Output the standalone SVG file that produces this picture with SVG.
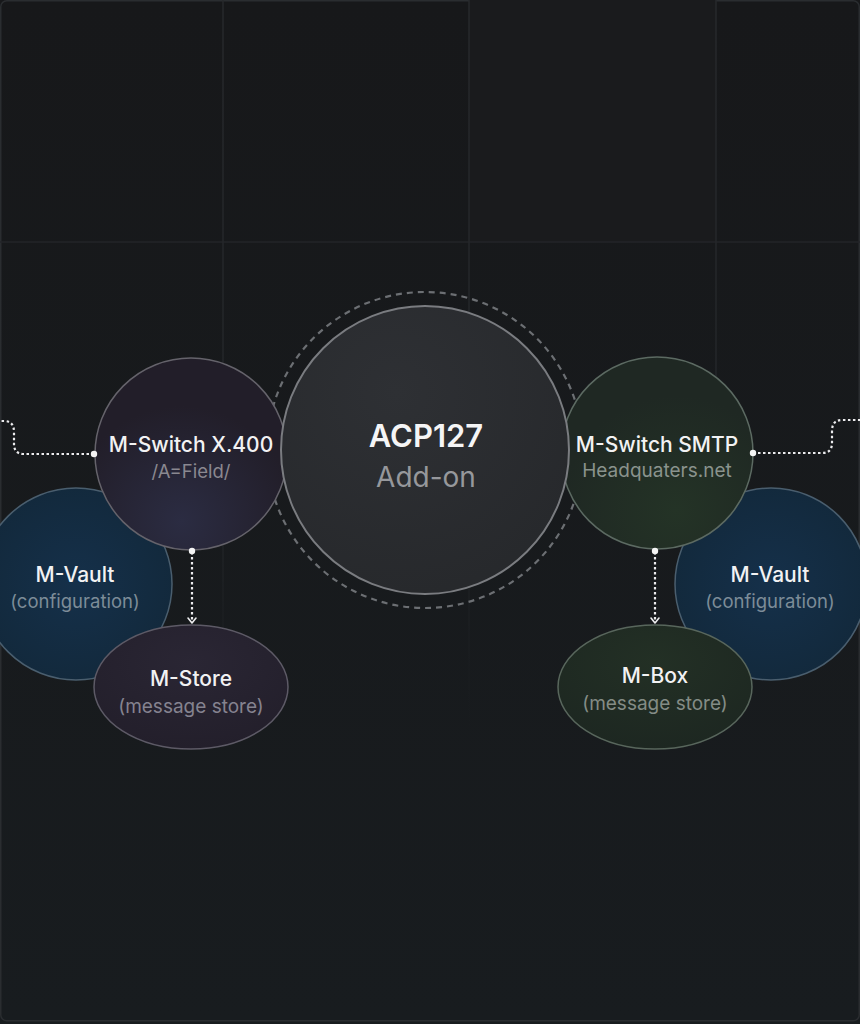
<svg xmlns="http://www.w3.org/2000/svg" width="860" height="1024" viewBox="0 0 860 1024">
<defs>
<style>
.t1{font-family:Inter,"Noto Sans","Liberation Sans",sans-serif;font-weight:500;fill:#f2f2f3;text-anchor:middle}
.t2{font-family:Inter,"Noto Sans","Liberation Sans",sans-serif;font-weight:400;text-anchor:middle}
.conn{fill:none;stroke:#ececee;stroke-width:2.2;stroke-dasharray:2.5 2.5}
.head{fill:none;stroke:#ececee;stroke-width:1.6;stroke-linecap:round;stroke-linejoin:round}
.dot{fill:#f4f4f4}
.grid{stroke:#232528;stroke-width:1.5}
</style>
<linearGradient id="bg" x1="0" y1="0" x2="0" y2="1">
<stop offset="0" stop-color="#17181a"/>
<stop offset="1" stop-color="#181c1f"/>
</linearGradient>
<linearGradient id="vfade" gradientUnits="userSpaceOnUse" x1="0" y1="0" x2="0" y2="740">
<stop offset="0" stop-color="#26282b"/>
<stop offset="0.7" stop-color="#222528"/>
<stop offset="1" stop-color="#1a1d20" stop-opacity="0"/>
</linearGradient>
<radialGradient id="gC" cx="0.4" cy="0.3" r="0.8">
<stop offset="0" stop-color="#2e3034"/>
<stop offset="1" stop-color="#26282b"/>
</radialGradient>
<radialGradient id="gX" cx="0.45" cy="0.85" r="0.6">
<stop offset="0" stop-color="#2b2c42"/>
<stop offset="1" stop-color="#221e29"/>
</radialGradient>
<radialGradient id="gS" cx="0.6" cy="0.8" r="0.6">
<stop offset="0" stop-color="#243326"/>
<stop offset="1" stop-color="#1f2823"/>
</radialGradient>
<radialGradient id="gV" cx="0.5" cy="0.5" r="0.6">
<stop offset="0" stop-color="#15304a"/>
<stop offset="1" stop-color="#12283a"/>
</radialGradient>
<radialGradient id="gMS" cx="0.5" cy="0.3" r="0.7">
<stop offset="0" stop-color="#2a2634"/>
<stop offset="1" stop-color="#231f2b"/>
</radialGradient>
<radialGradient id="gMB" cx="0.5" cy="0.3" r="0.7">
<stop offset="0" stop-color="#233025"/>
<stop offset="1" stop-color="#1d2721"/>
</radialGradient>
</defs>

<rect x="0" y="0" width="860" height="1024" fill="url(#bg)"/>
<rect x="0.75" y="0.75" width="858.5" height="1020" rx="6" fill="none" stroke="#2a2d30" stroke-width="1.5"/>

<g id="grid">
<rect x="469" y="0" width="247" height="242" fill="#1a1b1d"/>
<line class="grid" x1="0" y1="242" x2="860" y2="242"/>
<line x1="223" y1="0" x2="223" y2="740" stroke="url(#vfade)" stroke-width="1.5"/>
<line x1="469" y1="0" x2="469" y2="740" stroke="url(#vfade)" stroke-width="1.5"/>
<line x1="716" y1="0" x2="716" y2="740" stroke="url(#vfade)" stroke-width="1.5"/>
</g>

<g id="ring">
<circle cx="425" cy="450" r="158" fill="none" stroke="#6c6f73" stroke-width="2.2" stroke-dasharray="6 5"/>
</g>

<g id="vault-left">
<circle cx="76" cy="584" r="96" fill="url(#gV)" stroke="#4a5e6e" stroke-width="1.5"/>
<text class="t1" x="75" y="582" font-size="21">M-Vault</text>
<text class="t2" x="75" y="608" font-size="18.5" fill="#7d8c98">(configuration)</text>
</g>

<g id="vault-right">
<circle cx="771" cy="584" r="96" fill="url(#gV)" stroke="#4a5e6e" stroke-width="1.5"/>
<text class="t1" x="770" y="582" font-size="21">M-Vault</text>
<text class="t2" x="770" y="608" font-size="18.5" fill="#7d8c98">(configuration)</text>
</g>

<g id="mstore">
<ellipse cx="191" cy="687" rx="97" ry="62" fill="url(#gMS)" stroke="#5d5a66" stroke-width="1.5"/>
<text class="t1" x="191" y="686" font-size="21">M-Store</text>
<text class="t2" x="191" y="713" font-size="19" fill="#858390">(message store)</text>
</g>

<g id="mbox">
<ellipse cx="655" cy="687" rx="97" ry="62" fill="url(#gMB)" stroke="#58665c" stroke-width="1.5"/>
<text class="t1" x="655" y="683" font-size="21">M-Box</text>
<text class="t2" x="655" y="710" font-size="19" fill="#848c86">(message store)</text>
</g>

<g id="switch-x400">
<circle cx="191" cy="454" r="96" fill="url(#gX)" stroke="#65636b" stroke-width="1.5"/>
<text class="t1" x="191" y="452" font-size="21">M-Switch X.400</text>
<text class="t2" x="191" y="478" font-size="18.5" fill="#8a8890">/A=Field/</text>
</g>

<g id="switch-smtp">
<circle cx="657" cy="453" r="96" fill="url(#gS)" stroke="#5c6a62" stroke-width="1.5"/>
<text class="t1" x="657" y="452" font-size="21">M-Switch SMTP</text>
<text class="t2" x="657" y="477" font-size="19" fill="#8a938d">Headquaters.net</text>
</g>

<g id="acp127">
<circle cx="425" cy="450" r="144" fill="url(#gC)" stroke="#7a7c80" stroke-width="2"/>
<text x="426" y="447" font-family="Inter,'Noto Sans','Liberation Sans',sans-serif" font-weight="600" font-size="31" fill="#f5f5f6" text-anchor="middle">ACP127</text>
<text x="426" y="487" font-family="Inter,'Noto Sans','Liberation Sans',sans-serif" font-weight="400" font-size="28" fill="#96989c" text-anchor="middle">Add-on</text>
</g>

<g id="connectors">
<path class="conn" d="M94,454 H24 Q14,454 14,444 V432 Q14,421 4,421 H0"/>
<path class="conn" d="M753,453 H822 Q832,453 832,443 V431 Q832,420 842,420 H860"/>
<path class="conn" d="M192,552 V621"/>
<path class="head" d="M188,618 L192,623 L196,618"/>
<path class="conn" d="M655,552 V621"/>
<path class="head" d="M651,618 L655,623 L659,618"/>
<circle class="dot" cx="94" cy="454" r="3.2"/>
<circle class="dot" cx="753" cy="453" r="3.2"/>
<circle class="dot" cx="192" cy="551" r="3.2"/>
<circle class="dot" cx="655" cy="551" r="3.2"/>
</g>
</svg>
